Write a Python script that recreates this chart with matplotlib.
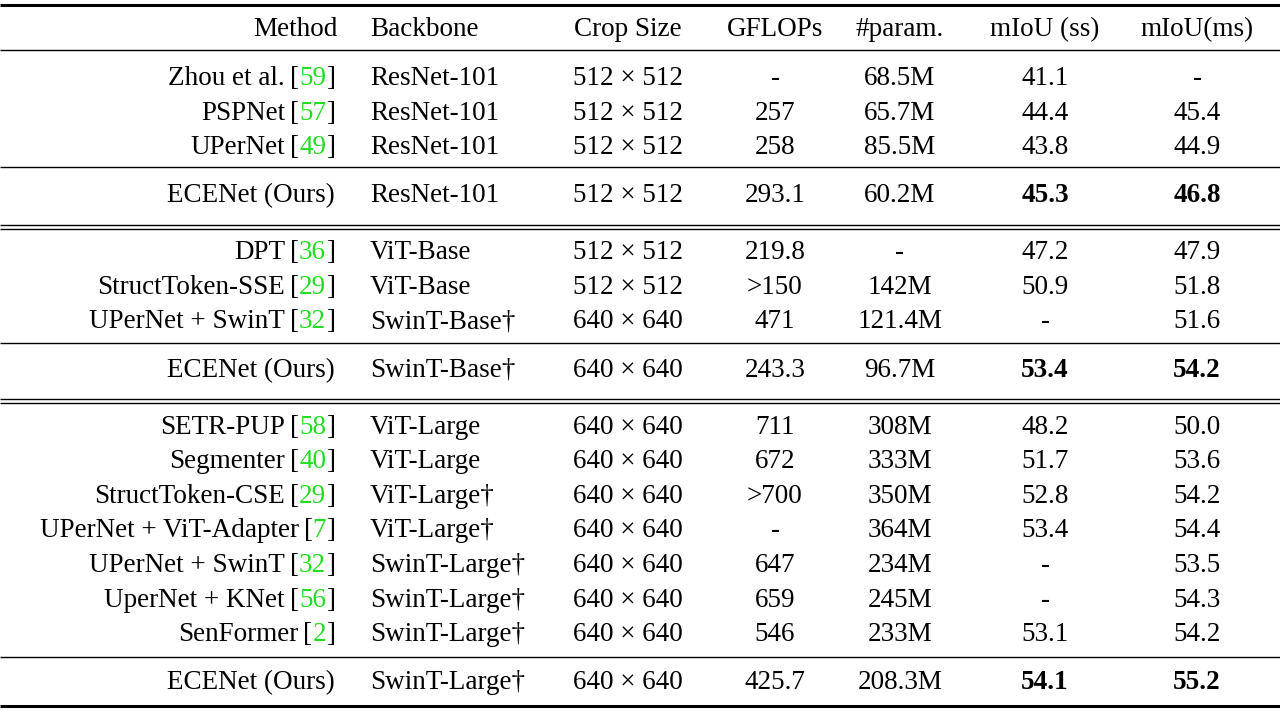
import matplotlib
matplotlib.use("Agg")
import matplotlib.pyplot as plt

methods = ["Zhou et al.", "PSPNet", "UPerNet", "ECENet (Ours)",
           "DPT", "StructToken-SSE", "UPerNet + SwinT", "ECENet (Ours)",
           "SETR-PUP", "Segmenter", "StructToken-CSE", "UPerNet + ViT-Adapter",
           "UPerNet + SwinT", "UperNet + KNet", "SenFormer", "ECENet (Ours)"]
cites = ["59", "57", "49", "", "36", "29", "32", "", "58", "40", "29", "7", "32", "56", "2", ""]
backbones = ["ResNet-101"] * 4 + ["ViT-Base", "ViT-Base", "SwinT-Base†", "SwinT-Base†",
             "ViT-Large", "ViT-Large", "ViT-Large†", "ViT-Large†",
             "SwinT-Large†", "SwinT-Large†", "SwinT-Large†", "SwinT-Large†"]
crops = ["512 × 512"] * 6 + ["640 × 640"] * 10
gflops = ["-", "257", "258", "293.1", "219.8", ">150", "471", "243.3",
          "711", "672", ">700", "-", "647", "659", "546", "425.7"]
params = ["68.5M", "65.7M", "85.5M", "60.2M", "-", "142M", "121.4M", "96.7M",
          "308M", "333M", "350M", "364M", "234M", "245M", "233M", "208.3M"]
miou_ss = ["41.1", "44.4", "43.8", "45.3", "47.2", "50.9", "-", "53.4",
           "48.2", "51.7", "52.8", "53.4", "-", "-", "53.1", "54.1"]
miou_ms = ["-", "45.4", "44.9", "46.8", "47.9", "51.8", "51.6", "54.2",
           "50.0", "53.6", "54.2", "54.4", "53.5", "54.3", "54.2", "55.2"]
headers = ["Method", "Backbone", "Crop Size", "GFLOPs", "#param.", "mIoU (ss)", "mIoU(ms)"]

W, H = 1280, 713
fig = plt.figure(figsize=(12.8, 7.13), dpi=100)
ax = fig.add_axes([0, 0, 1, 1])
ax.set_xlim(0, W); ax.set_ylim(H, 0); ax.axis("off")
FONT = "Liberation Serif"; FS = 19.5
green = "#22dd22"
row_y = [76, 111, 145, 193, 250, 285, 319, 368, 425, 459, 494, 528, 563, 598, 632, 680]
hy = 27
method_x = 335; back_x = 370; centers = [628, 775, 900, 1045, 1197]
OFF = 9

def T(x, y, s, ha="center", color="black", weight="normal"):
    return ax.text(x, y + OFF, s, ha=ha, va="baseline", fontsize=FS, family=FONT,
                   color=color, fontweight=weight)

T(338, hy, headers[0], ha="right"); T(back_x, hy, headers[1], ha="left")
for c, h in zip(centers, headers[2:]):
    T(c, hy, h)

fig.canvas.draw()
r = fig.canvas.get_renderer()
inv = ax.transData.inverted()
def width(t):
    bb = t.get_window_extent(r)
    (x0, _), (x1, _) = inv.transform([(bb.x0, 0), (bb.x1, 0)])
    return x1 - x0

for i, y in enumerate(row_y):
    x = method_x
    if cites[i]:
        for s, col in [("]", "black"), (cites[i], green), ("[", "black")]:
            t = T(x, y, s, ha="right", color=col)
            x -= width(t)
        x -= 5
    T(x, y, methods[i], ha="right")
    T(back_x, y, backbones[i], ha="left")
    bold = methods[i].startswith("ECENet")
    for c, v, b in zip(centers, [crops[i], gflops[i], params[i], miou_ss[i], miou_ms[i]],
                       [0, 0, 0, 1, 1]):
        T(c, y, v, weight="bold" if (bold and b) else "normal")

def hl(y, lw=1.0):
    ax.plot([0, W], [y, y], color="black", lw=lw, solid_capstyle="butt")
hl(5, 2.2); hl(50); hl(167); hl(225); hl(229); hl(343); hl(399); hl(403); hl(657); hl(706, 2.2)
fig.savefig("out.png", dpi=100)
